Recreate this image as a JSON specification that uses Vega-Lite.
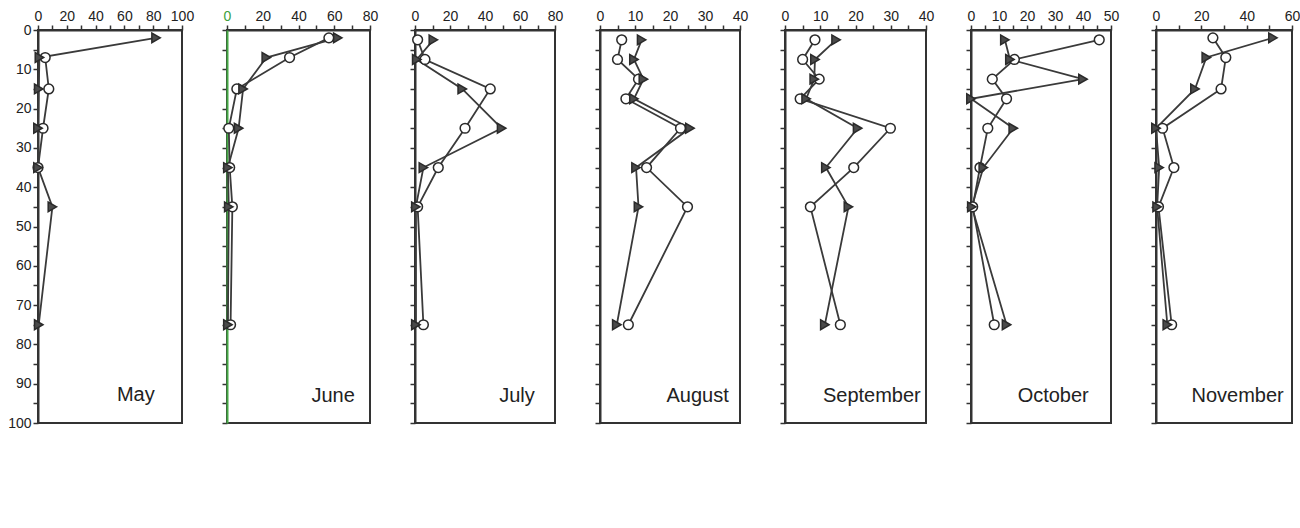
{
  "$schema": "https://vega.github.io/schema/vega-lite/v6.json",
  "padding": {"left": 6, "top": 8, "right": 0, "bottom": 0},
  "background": "white",
  "bounds": "flush",
  "spacing": 45,
  "datasets": {
    "profiles": [
      {"month": "May", "series": "circle", "depth": 7, "value": 5},
      {"month": "May", "series": "circle", "depth": 15, "value": 7.5},
      {"month": "May", "series": "circle", "depth": 25, "value": 3.5},
      {"month": "May", "series": "circle", "depth": 35, "value": 0},
      {"month": "May", "series": "triangle", "depth": 2, "value": 82},
      {"month": "May", "series": "triangle", "depth": 7, "value": 1},
      {"month": "May", "series": "triangle", "depth": 15, "value": 0.5},
      {"month": "May", "series": "triangle", "depth": 25, "value": 0},
      {"month": "May", "series": "triangle", "depth": 35, "value": 0},
      {"month": "May", "series": "triangle", "depth": 45, "value": 10},
      {"month": "May", "series": "triangle", "depth": 75, "value": 0.5},

      {"month": "June", "series": "circle", "depth": 2, "value": 57},
      {"month": "June", "series": "circle", "depth": 7, "value": 35},
      {"month": "June", "series": "circle", "depth": 15, "value": 5.5},
      {"month": "June", "series": "circle", "depth": 25, "value": 1},
      {"month": "June", "series": "circle", "depth": 35, "value": 1.5},
      {"month": "June", "series": "circle", "depth": 45, "value": 3},
      {"month": "June", "series": "circle", "depth": 75, "value": 2},
      {"month": "June", "series": "triangle", "depth": 2, "value": 62},
      {"month": "June", "series": "triangle", "depth": 7, "value": 22},
      {"month": "June", "series": "triangle", "depth": 15, "value": 9},
      {"month": "June", "series": "triangle", "depth": 25, "value": 6.5},
      {"month": "June", "series": "triangle", "depth": 35, "value": 0.5},
      {"month": "June", "series": "triangle", "depth": 45, "value": 1},
      {"month": "June", "series": "triangle", "depth": 75, "value": 0.5},

      {"month": "July", "series": "circle", "depth": 2.5, "value": 1.5},
      {"month": "July", "series": "circle", "depth": 7.5, "value": 5.7},
      {"month": "July", "series": "circle", "depth": 15, "value": 43},
      {"month": "July", "series": "circle", "depth": 25, "value": 28.6},
      {"month": "July", "series": "circle", "depth": 35, "value": 13.3},
      {"month": "July", "series": "circle", "depth": 45, "value": 1.5},
      {"month": "July", "series": "circle", "depth": 75, "value": 4.8},
      {"month": "July", "series": "triangle", "depth": 2.5, "value": 10.5},
      {"month": "July", "series": "triangle", "depth": 7.5, "value": 1},
      {"month": "July", "series": "triangle", "depth": 15, "value": 27},
      {"month": "July", "series": "triangle", "depth": 25, "value": 49.5},
      {"month": "July", "series": "triangle", "depth": 35, "value": 4.8},
      {"month": "July", "series": "triangle", "depth": 45, "value": 0.5},
      {"month": "July", "series": "triangle", "depth": 75, "value": 0.5},

      {"month": "August", "series": "circle", "depth": 2.5, "value": 6.2},
      {"month": "August", "series": "circle", "depth": 7.5, "value": 5},
      {"month": "August", "series": "circle", "depth": 12.5, "value": 11},
      {"month": "August", "series": "circle", "depth": 17.5, "value": 7.4},
      {"month": "August", "series": "circle", "depth": 25, "value": 23},
      {"month": "August", "series": "circle", "depth": 35, "value": 13.3},
      {"month": "August", "series": "circle", "depth": 45, "value": 25},
      {"month": "August", "series": "circle", "depth": 75, "value": 8.1},
      {"month": "August", "series": "triangle", "depth": 2.5, "value": 11.9},
      {"month": "August", "series": "triangle", "depth": 7.5, "value": 9.7},
      {"month": "August", "series": "triangle", "depth": 12.5, "value": 12.4},
      {"month": "August", "series": "triangle", "depth": 17.5, "value": 9.7},
      {"month": "August", "series": "triangle", "depth": 25, "value": 25.7},
      {"month": "August", "series": "triangle", "depth": 35, "value": 10.3},
      {"month": "August", "series": "triangle", "depth": 45, "value": 11},
      {"month": "August", "series": "triangle", "depth": 75, "value": 4.8},

      {"month": "September", "series": "circle", "depth": 2.5, "value": 8.5},
      {"month": "September", "series": "circle", "depth": 7.5, "value": 5},
      {"month": "September", "series": "circle", "depth": 12.5, "value": 9.7},
      {"month": "September", "series": "circle", "depth": 17.5, "value": 4.3},
      {"month": "September", "series": "circle", "depth": 25, "value": 29.9},
      {"month": "September", "series": "circle", "depth": 35, "value": 19.5},
      {"month": "September", "series": "circle", "depth": 45, "value": 7.2},
      {"month": "September", "series": "circle", "depth": 75, "value": 15.7},
      {"month": "September", "series": "triangle", "depth": 2.5, "value": 14.5},
      {"month": "September", "series": "triangle", "depth": 7.5, "value": 8.5},
      {"month": "September", "series": "triangle", "depth": 12.5, "value": 8.3},
      {"month": "September", "series": "triangle", "depth": 17.5, "value": 6},
      {"month": "September", "series": "triangle", "depth": 25, "value": 20.6},
      {"month": "September", "series": "triangle", "depth": 35, "value": 11.6},
      {"month": "September", "series": "triangle", "depth": 45, "value": 18},
      {"month": "September", "series": "triangle", "depth": 75, "value": 11.3},

      {"month": "October", "series": "circle", "depth": 2.5, "value": 45.8},
      {"month": "October", "series": "circle", "depth": 7.5, "value": 15.5},
      {"month": "October", "series": "circle", "depth": 12.5, "value": 7.6},
      {"month": "October", "series": "circle", "depth": 17.5, "value": 12.7},
      {"month": "October", "series": "circle", "depth": 25, "value": 6},
      {"month": "October", "series": "circle", "depth": 35, "value": 3.2},
      {"month": "October", "series": "circle", "depth": 45, "value": 0.6},
      {"month": "October", "series": "circle", "depth": 75, "value": 8.3},
      {"month": "October", "series": "triangle", "depth": 2.5, "value": 12.1},
      {"month": "October", "series": "triangle", "depth": 7.5, "value": 13.9},
      {"month": "October", "series": "triangle", "depth": 12.5, "value": 40},
      {"month": "October", "series": "triangle", "depth": 17.5, "value": 0},
      {"month": "October", "series": "triangle", "depth": 25, "value": 15.1},
      {"month": "October", "series": "triangle", "depth": 35, "value": 4.4},
      {"month": "October", "series": "triangle", "depth": 45, "value": 0.3},
      {"month": "October", "series": "triangle", "depth": 75, "value": 12.7},

      {"month": "November", "series": "circle", "depth": 2, "value": 25.1},
      {"month": "November", "series": "circle", "depth": 7, "value": 30.8},
      {"month": "November", "series": "circle", "depth": 15, "value": 28.7},
      {"month": "November", "series": "circle", "depth": 25, "value": 2.9},
      {"month": "November", "series": "circle", "depth": 35, "value": 7.9},
      {"month": "November", "series": "circle", "depth": 45, "value": 1.1},
      {"month": "November", "series": "circle", "depth": 75, "value": 6.9},
      {"month": "November", "series": "triangle", "depth": 2, "value": 51.6},
      {"month": "November", "series": "triangle", "depth": 7, "value": 22.2},
      {"month": "November", "series": "triangle", "depth": 15, "value": 17.2},
      {"month": "November", "series": "triangle", "depth": 25, "value": 0},
      {"month": "November", "series": "triangle", "depth": 35, "value": 1.4},
      {"month": "November", "series": "triangle", "depth": 45, "value": 0.5},
      {"month": "November", "series": "triangle", "depth": 75, "value": 5}
    ]
  },
  "hconcat": [
    {
      "width": 144, "height": 393,
      "title": {"text": "May", "dx": -39, "offset": -45},
      "data": {"name": "profiles"},
      "transform": [{"filter": "datum.month == 'May'"}],
      "encoding": {
        "x": {"field": "value", "type": "quantitative", "scale": {"domain": [0, 100], "nice": false},
              "axis": {"orient": "top", "title": null, "values": [0, 10, 20, 30, 40, 50, 60, 70, 80, 90, 100], "labelExpr": "datum.value % 20 == 0 ? datum.label : ''"}},
        "y": {"field": "depth", "type": "quantitative", "scale": {"domain": [0, 100], "reverse": true, "nice": false},
              "axis": {"title": null, "values": [0, 5, 10, 15, 20, 25, 30, 35, 40, 45, 50, 55, 60, 65, 70, 75, 80, 85, 90, 95, 100], "labelExpr": "datum.value % 10 == 0 ? datum.label : ''"}}
      },
      "layer": [
        {"mark": {"type": "line", "color": "#3a3a3a", "strokeWidth": 1.8},
         "encoding": {"detail": {"field": "series"}, "order": {"field": "depth"}}},
        {"mark": {"type": "point", "filled": true, "size": 95, "stroke": "#2a2a2a", "strokeWidth": 1.5, "opacity": 1},
         "encoding": {
           "shape": {"field": "series", "scale": {"domain": ["circle", "triangle"], "range": ["circle", "triangle-right"]}, "legend": null},
           "fill": {"field": "series", "scale": {"domain": ["circle", "triangle"], "range": ["#ffffff", "#4a4a4a"]}, "legend": null}}}
      ]
    },
    {
      "width": 143, "height": 393,
      "title": {"text": "June", "dx": -23},
      "data": {"name": "profiles"},
      "transform": [{"filter": "datum.month == 'June'"}],
      "encoding": {
        "x": {"field": "value", "type": "quantitative", "scale": {"domain": [0, 80], "nice": false},
              "axis": {"orient": "top", "title": null, "values": [0, 10, 20, 30, 40, 50, 60, 70, 80], "labelExpr": "datum.value % 20 == 0 ? datum.label : ''",
                       "labelColor": {"condition": {"test": "datum.value == 0", "value": "#3c9e3c"}, "value": "#222222"}}},
        "y": {"field": "depth", "type": "quantitative", "scale": {"domain": [0, 100], "reverse": true, "nice": false},
              "axis": {"title": null, "labels": false, "domainColor": "#45a845", "values": [0, 5, 10, 15, 20, 25, 30, 35, 40, 45, 50, 55, 60, 65, 70, 75, 80, 85, 90, 95, 100]}}
      },
      "layer": [
        {"mark": {"type": "line", "color": "#3a3a3a", "strokeWidth": 1.8},
         "encoding": {"detail": {"field": "series"}, "order": {"field": "depth"}}},
        {"mark": {"type": "point", "filled": true, "size": 95, "stroke": "#2a2a2a", "strokeWidth": 1.5, "opacity": 1},
         "encoding": {
           "shape": {"field": "series", "scale": {"domain": ["circle", "triangle"], "range": ["circle", "triangle-right"]}, "legend": null},
           "fill": {"field": "series", "scale": {"domain": ["circle", "triangle"], "range": ["#ffffff", "#4a4a4a"]}, "legend": null}}}
      ]
    },
    {
      "width": 140, "height": 393,
      "title": {"text": "July", "dx": -28},
      "data": {"name": "profiles"},
      "transform": [{"filter": "datum.month == 'July'"}],
      "encoding": {
        "x": {"field": "value", "type": "quantitative", "scale": {"domain": [0, 80], "nice": false},
              "axis": {"orient": "top", "title": null, "values": [0, 10, 20, 30, 40, 50, 60, 70, 80], "labelExpr": "datum.value % 20 == 0 ? datum.label : ''"}},
        "y": {"field": "depth", "type": "quantitative", "scale": {"domain": [0, 100], "reverse": true, "nice": false},
              "axis": {"title": null, "labels": false, "values": [0, 5, 10, 15, 20, 25, 30, 35, 40, 45, 50, 55, 60, 65, 70, 75, 80, 85, 90, 95, 100]}}
      },
      "layer": [
        {"mark": {"type": "line", "color": "#3a3a3a", "strokeWidth": 1.8},
         "encoding": {"detail": {"field": "series"}, "order": {"field": "depth"}}},
        {"mark": {"type": "point", "filled": true, "size": 95, "stroke": "#2a2a2a", "strokeWidth": 1.5, "opacity": 1},
         "encoding": {
           "shape": {"field": "series", "scale": {"domain": ["circle", "triangle"], "range": ["circle", "triangle-right"]}, "legend": null},
           "fill": {"field": "series", "scale": {"domain": ["circle", "triangle"], "range": ["#ffffff", "#4a4a4a"]}, "legend": null}}}
      ]
    },
    {
      "width": 140, "height": 393,
      "title": {"text": "August", "dx": -19},
      "data": {"name": "profiles"},
      "transform": [{"filter": "datum.month == 'August'"}],
      "encoding": {
        "x": {"field": "value", "type": "quantitative", "scale": {"domain": [0, 40], "nice": false},
              "axis": {"orient": "top", "title": null, "values": [0, 5, 10, 15, 20, 25, 30, 35, 40], "labelExpr": "datum.value % 10 == 0 ? datum.label : ''"}},
        "y": {"field": "depth", "type": "quantitative", "scale": {"domain": [0, 100], "reverse": true, "nice": false},
              "axis": {"title": null, "labels": false, "values": [0, 5, 10, 15, 20, 25, 30, 35, 40, 45, 50, 55, 60, 65, 70, 75, 80, 85, 90, 95, 100]}}
      },
      "layer": [
        {"mark": {"type": "line", "color": "#3a3a3a", "strokeWidth": 1.8},
         "encoding": {"detail": {"field": "series"}, "order": {"field": "depth"}}},
        {"mark": {"type": "point", "filled": true, "size": 95, "stroke": "#2a2a2a", "strokeWidth": 1.5, "opacity": 1},
         "encoding": {
           "shape": {"field": "series", "scale": {"domain": ["circle", "triangle"], "range": ["circle", "triangle-right"]}, "legend": null},
           "fill": {"field": "series", "scale": {"domain": ["circle", "triangle"], "range": ["#ffffff", "#4a4a4a"]}, "legend": null}}}
      ]
    },
    {
      "width": 141, "height": 393,
      "title": {"text": "September", "dx": -13},
      "data": {"name": "profiles"},
      "transform": [{"filter": "datum.month == 'September'"}],
      "encoding": {
        "x": {"field": "value", "type": "quantitative", "scale": {"domain": [0, 40], "nice": false},
              "axis": {"orient": "top", "title": null, "values": [0, 5, 10, 15, 20, 25, 30, 35, 40], "labelExpr": "datum.value % 10 == 0 ? datum.label : ''"}},
        "y": {"field": "depth", "type": "quantitative", "scale": {"domain": [0, 100], "reverse": true, "nice": false},
              "axis": {"title": null, "labels": false, "values": [0, 5, 10, 15, 20, 25, 30, 35, 40, 45, 50, 55, 60, 65, 70, 75, 80, 85, 90, 95, 100]}}
      },
      "layer": [
        {"mark": {"type": "line", "color": "#3a3a3a", "strokeWidth": 1.8},
         "encoding": {"detail": {"field": "series"}, "order": {"field": "depth"}}},
        {"mark": {"type": "point", "filled": true, "size": 95, "stroke": "#2a2a2a", "strokeWidth": 1.5, "opacity": 1},
         "encoding": {
           "shape": {"field": "series", "scale": {"domain": ["circle", "triangle"], "range": ["circle", "triangle-right"]}, "legend": null},
           "fill": {"field": "series", "scale": {"domain": ["circle", "triangle"], "range": ["#ffffff", "#4a4a4a"]}, "legend": null}}}
      ]
    },
    {
      "width": 140, "height": 393,
      "title": {"text": "October", "dx": -30},
      "data": {"name": "profiles"},
      "transform": [{"filter": "datum.month == 'October'"}],
      "encoding": {
        "x": {"field": "value", "type": "quantitative", "scale": {"domain": [0, 50], "nice": false},
              "axis": {"orient": "top", "title": null, "values": [0, 5, 10, 15, 20, 25, 30, 35, 40, 45, 50], "labelExpr": "datum.value % 10 == 0 ? datum.label : ''"}},
        "y": {"field": "depth", "type": "quantitative", "scale": {"domain": [0, 100], "reverse": true, "nice": false},
              "axis": {"title": null, "labels": false, "values": [0, 5, 10, 15, 20, 25, 30, 35, 40, 45, 50, 55, 60, 65, 70, 75, 80, 85, 90, 95, 100]}}
      },
      "layer": [
        {"mark": {"type": "line", "color": "#3a3a3a", "strokeWidth": 1.8},
         "encoding": {"detail": {"field": "series"}, "order": {"field": "depth"}}},
        {"mark": {"type": "point", "filled": true, "size": 95, "stroke": "#2a2a2a", "strokeWidth": 1.5, "opacity": 1},
         "encoding": {
           "shape": {"field": "series", "scale": {"domain": ["circle", "triangle"], "range": ["circle", "triangle-right"]}, "legend": null},
           "fill": {"field": "series", "scale": {"domain": ["circle", "triangle"], "range": ["#ffffff", "#4a4a4a"]}, "legend": null}}}
      ]
    },
    {
      "width": 136, "height": 393,
      "title": {"text": "November", "dx": -16},
      "data": {"name": "profiles"},
      "transform": [{"filter": "datum.month == 'November'"}],
      "encoding": {
        "x": {"field": "value", "type": "quantitative", "scale": {"domain": [0, 60], "nice": false},
              "axis": {"orient": "top", "title": null, "values": [0, 10, 20, 30, 40, 50, 60], "labelExpr": "datum.value % 20 == 0 ? datum.label : ''"}},
        "y": {"field": "depth", "type": "quantitative", "scale": {"domain": [0, 100], "reverse": true, "nice": false},
              "axis": {"title": null, "labels": false, "values": [0, 5, 10, 15, 20, 25, 30, 35, 40, 45, 50, 55, 60, 65, 70, 75, 80, 85, 90, 95, 100]}}
      },
      "layer": [
        {"mark": {"type": "line", "color": "#3a3a3a", "strokeWidth": 1.8},
         "encoding": {"detail": {"field": "series"}, "order": {"field": "depth"}}},
        {"mark": {"type": "point", "filled": true, "size": 95, "stroke": "#2a2a2a", "strokeWidth": 1.5, "opacity": 1},
         "encoding": {
           "shape": {"field": "series", "scale": {"domain": ["circle", "triangle"], "range": ["circle", "triangle-right"]}, "legend": null},
           "fill": {"field": "series", "scale": {"domain": ["circle", "triangle"], "range": ["#ffffff", "#4a4a4a"]}, "legend": null}}}
      ]
    }
  ],
  "config": {
    "view": {"stroke": "#333333", "strokeWidth": 2},
    "title": {
      "orient": "bottom",
      "anchor": "end",
      "offset": -38,
      "baseline": "middle",
      "font": "Liberation Sans",
      "fontSize": 20,
      "fontWeight": "normal",
      "color": "#222222"
    },
    "axis": {
      "grid": false,
      "domainColor": "#333333",
      "domainWidth": 2,
      "tickColor": "#333333",
      "tickSize": 5,
      "tickWidth": 1.5,
      "labelFont": "Liberation Sans",
      "labelFontSize": 14,
      "labelColor": "#222222",
      "labelPadding": 2,
      "labelFlush": false,
      "labelOverlap": false
    }
  }
}
